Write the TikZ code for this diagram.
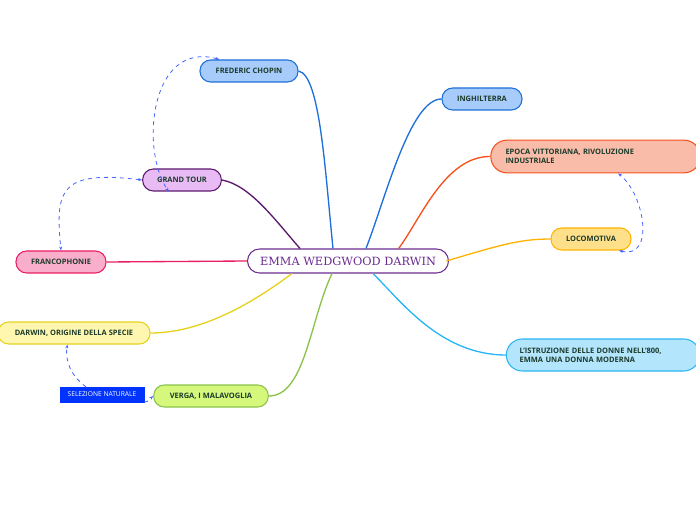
\documentclass[tikz,border=0pt]{standalone}
\usepackage{fontspec}
\setmainfont{Open Sans}
\newfontfamily\titlefont{DejaVu Serif}
\usetikzlibrary{arrows.meta}
\definecolor{txt}{HTML}{1B3A2A}
\definecolor{dashcol}{HTML}{4466FF}
\definecolor{cblue}{HTML}{1E6FD9}\definecolor{fblue}{HTML}{A7CBFA}
\definecolor{cpur}{HTML}{5B1A6B}\definecolor{fpur}{HTML}{E8BBF5}
\definecolor{cpink}{HTML}{E91E63}\definecolor{fpink}{HTML}{F9AECB}
\definecolor{cyel}{HTML}{E6D21E}\definecolor{fyel}{HTML}{FFF7B0}
\definecolor{cgrn}{HTML}{8BC34A}\definecolor{fgrn}{HTML}{D4F77C}
\definecolor{csel}{HTML}{0033FF}
\definecolor{cred}{HTML}{F4511E}\definecolor{fred}{HTML}{F9BCA9}
\definecolor{corg}{HTML}{FFB300}\definecolor{forg}{HTML}{FFE08A}
\definecolor{ccy}{HTML}{29B6F6}\definecolor{fcy}{HTML}{B3E5FC}
\definecolor{ctitle}{HTML}{6A2C91}
\tikzset{
 topic/.style={draw=#1, line width=0.8pt, rounded corners=8pt, minimum height=16.5pt, inner xsep=6pt, font=\bfseries\fontsize{5.6}{7}\selectfont, text=txt, align=left},
 link/.style={line width=1pt},
 rel/.style={dashcol, dashed, line width=0.6pt, {Stealth[length=3pt]}-{Stealth[length=3pt]}},
 rel1/.style={dashcol, dashed, line width=0.6pt, -{Stealth[length=3pt]}},
}
\begin{document}
\begin{tikzpicture}[x=0.75pt,y=-0.75pt]
\useasboundingbox (0,0) rectangle (696,520);
\node[draw=ctitle, line width=0.8pt, rounded corners=9pt, fill=white, minimum width=150.75pt, minimum height=18pt, text=ctitle, font=\titlefont\fontsize{8.5}{10}\selectfont] (c) at (348,261) {EMMA WEDGWOOD DARWIN};
\node[topic=cblue, fill=fblue, minimum width=73.5pt] (ch) at (249,71) {FREDERIC CHOPIN};
\node[topic=cpur, fill=fpur, minimum width=59pt] (gt) at (182,180) {GRAND TOUR};
\node[topic=cpink, fill=fpink, minimum width=67.5pt] (fr) at (61,262) {FRANCOPHONIE};
\node[topic=cyel, fill=fyel, minimum width=114pt] (dw) at (74,333) {DARWIN, ORIGINE DELLA SPECIE};
\node[topic=cgrn, fill=fgrn, minimum width=86pt] (vg) at (211,396) {VERGA, I MALAVOGLIA};
\node[draw=csel, fill=csel, text=white, minimum width=63pt, minimum height=11pt, inner sep=1pt, font=\fontsize{5}{6}\selectfont] (sn) at (102,394.5) {SELEZIONE NATURALE};
\node[topic=cblue, fill=fblue, minimum width=60pt] (ing) at (482,99) {INGHILTERRA};
\node[topic=cred, fill=fred, minimum width=157pt, minimum height=24.5pt, rounded corners=12pt, text width=135pt] (ep) at (595.5,156.5) {EPOCA VITTORIANA, RIVOLUZIONE\\INDUSTRIALE};
\node[topic=corg, fill=forg, minimum width=60pt] (lo) at (591,239) {LOCOMOTIVA};
\node[topic=ccy, fill=fcy, minimum width=145pt, minimum height=24pt, rounded corners=12pt, text width=125pt] (is) at (603,355) {L'ISTRUZIONE DELLE DONNE NELL'800,\\EMMA UNA DONNA MODERNA};

\draw[link, cblue] ([xshift=-11.25pt]c.north) .. controls (325,170) and (320,75) .. (ch.east);
\draw[link, cpur] ([xshift=-36pt]c.north) .. controls (275,220) and (250,185) .. (gt.east);
\draw[link, cpink] (c.west) -- (fr.east);
\draw[link, cyel] ([xshift=-42pt]c.south) .. controls (250,305) and (200,333) .. (dw.east);
\draw[link, cgrn] ([xshift=-12pt]c.south) .. controls (310,320) and (305,396) .. (vg.east);
\draw[link, cblue] ([xshift=13.5pt]c.north) .. controls (385,200) and (410,99) .. (ing.west);
\draw[link, cred] ([xshift=38pt]c.north) .. controls (420,220) and (445,156) .. (ep.west);
\draw[link, corg] ([xshift=-2pt]c.east) .. controls (500,245) and (520,239) .. (lo.west);
\draw[link, ccy] ([xshift=18.75pt]c.south) .. controls (400,300) and (440,355) .. (is.west);

\draw[rel] ([xshift=15pt]ch.north west) .. controls (150,40) and (140,150) .. ([xshift=20pt]gt.south west);
\draw[rel] (gt.west) .. controls (60,170) and (55,190) .. (fr.north);
\draw[rel1] ([xshift=-12pt]sn.north) .. controls (70,375) and (65,360) .. ([xshift=-5pt]dw.south);
\draw[rel1] (sn.south east) .. controls (147,402) .. (vg.west);
\draw[rel] ([xshift=21pt]lo.south) .. controls (655,260) and (645,195) .. ([xshift=17pt]ep.south);
\end{tikzpicture}
\end{document}
